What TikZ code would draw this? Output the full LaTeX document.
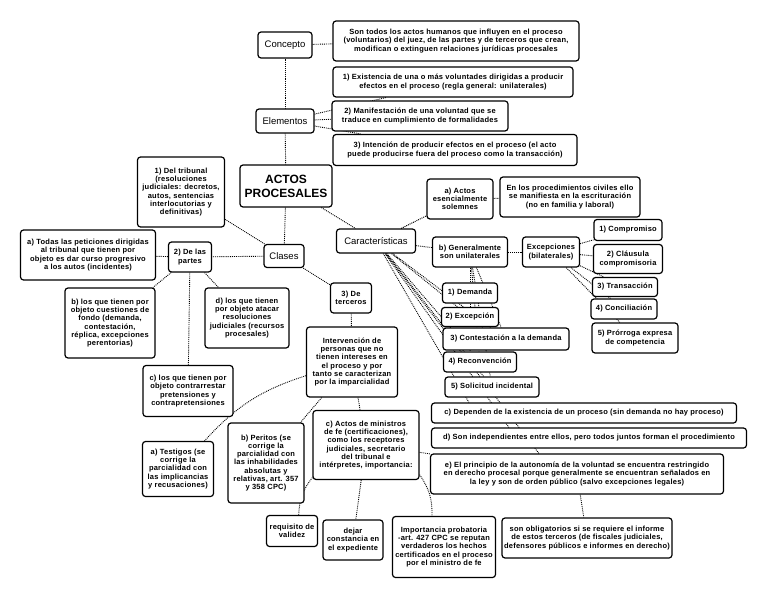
\documentclass[tikz,border=0pt]{standalone}
\usepackage{fontspec}
\setmainfont{Liberation Sans}
\newfontfamily\mapfont{Liberation Sans}[LetterSpace=3]
\usetikzlibrary{backgrounds}

\begin{document}
\begin{tikzpicture}[x=1pt, y=-1pt,
        box/.style={draw, line width=1.2pt, rounded corners=3pt, fill=white, align=center, inner sep=1.5pt, font=\mapfont\bfseries\fontsize{7.5}{8.3}\selectfont},
        head/.style={box, font=\fontsize{9.5}{10}\selectfont},
        link/.style={densely dotted, line width=0.9pt}]
    \useasboundingbox (0,0) rectangle (768,599);

    % concepto y elementos
    \node[head, minimum width=54, minimum height=26] (concepto) at (285,45) {Concepto};
    \node[box, minimum width=246, minimum height=40] (deftext) at (456,41) {Son todos los actos humanos que influyen en el proceso\\(voluntarios) del juez, de las partes y de terceros que crean,\\modifican o extinguen relaciones jurídicas procesales};
    \node[head, minimum width=58, minimum height=24] (elementos) at (285,121) {Elementos};
    \node[box, minimum width=240, minimum height=30] (elem1) at (453,82) {1) Existencia de una o más voluntades dirigidas a producir\\efectos en el proceso (regla general: unilaterales)};
    \node[box, minimum width=176, minimum height=30] (elem2) at (420,116) {2) Manifestación de una voluntad que se\\traduce en cumplimiento de formalidades};
    \node[box, minimum width=244, minimum height=31] (elem3) at (455,150) {3) Intención de producir efectos en el proceso (el acto\\puede producirse fuera del proceso como la transacción)};
    \node[box, font=\bfseries\fontsize{12}{14}\selectfont, minimum width=92, minimum height=42] (actos) at (286,186) {ACTOS\\PROCESALES};

    % clases
    \node[head, minimum width=40, minimum height=23] (clases) at (284,256) {Clases};
    \node[box, minimum width=87, minimum height=70] (tribunal) at (181,192) {1) Del tribunal\\(resoluciones\\judiciales: decretos,\\autos, sentencias\\interlocutorias y\\definitivas)};
    \node[box, minimum width=43, minimum height=30] (partes) at (190,257) {2) De las\\partes};
    \node[box, minimum width=135, minimum height=50] (partesA) at (88,255) {a) Todas las peticiones dirigidas\\al tribunal que tienen por\\objeto es dar curso progresivo\\a los autos (incidentes)};
    \node[box, minimum width=90, minimum height=70] (partesB) at (110,323) {b) los que tienen por\\objeto cuestiones de\\fondo (demanda,\\contestación,\\réplica, excepciones\\perentorias)};
    \node[box, minimum width=90, minimum height=51] (partesC) at (188,391) {c) los que tienen por\\objeto contrarrestar\\pretensiones y\\contrapretensiones};
    \node[box, minimum width=84, minimum height=60] (partesD) at (247,318) {d) los que tienen\\por objeto atacar\\resoluciones\\judiciales (recursos\\procesales)};
    \node[box, minimum width=41, minimum height=30] (terceros) at (351,298) {3) De\\terceros};
    \node[box, minimum width=91, minimum height=70] (interv) at (352,362) {Intervención de\\personas que no\\tienen intereses en\\el proceso y por\\tanto se caracterizan\\por la imparcialidad};
    \node[box, minimum width=71, minimum height=55] (testigos) at (178,469) {a) Testigos (se\\corrige la\\parcialidad con\\las implicancias\\y recusaciones)};
    \node[box, minimum width=76, minimum height=80] (peritos) at (266,463) {b) Peritos (se\\corrige la\\parcialidad con\\las inhabilidades\\absolutas y\\relativas, art. 357\\y 358 CPC)};
    \node[box, minimum width=106, minimum height=69] (ministros) at (366,445) {c) Actos de ministros\\de fe (certificaciones),\\como los receptores\\judiciales, secretario\\del tribunal e\\intérpretes, importancia:};
    \node[box, minimum width=51, minimum height=31] (validez) at (292,531) {requisito de\\validez};
    \node[box, minimum width=60, minimum height=40] (constancia) at (353,540) {dejar\\constancia en\\el expediente};
    \node[box, minimum width=103, minimum height=61] (probatoria) at (444,547) {Importancia probatoria\\-art. 427 CPC se reputan\\verdaderos los hechos\\certificados en el proceso\\por el ministro de fe};
    \node[box, minimum width=170, minimum height=40] (obligatorios) at (587,538) {son obligatorios si se requiere el informe\\de estos terceros (de fiscales judiciales,\\defensores públicos e informes en derecho)};

    % caracteristicas
    \node[head, minimum width=79, minimum height=24] (caract) at (376,241) {Características};
    \node[box, minimum width=66, minimum height=40] (caractA) at (460,199) {a) Actos\\esencialmente\\solemnes};
    \node[box, minimum width=140, minimum height=40] (escritura) at (570,197) {En los procedimientos civiles ello\\se manifiesta en la escrituración\\(no en familia y laboral)};
    \node[box, minimum width=75, minimum height=30] (caractB) at (470,252) {b) Generalmente\\son unilaterales};
    \node[box, minimum width=57, minimum height=30] (excepciones) at (551,252) {Excepciones\\(bilaterales)};
    \node[box, minimum width=68, minimum height=21] (bil1) at (628,230) {1) Compromiso};
    \node[box, minimum width=69, minimum height=29] (bil2) at (628,259) {2) Cláusula\\compromisoria};
    \node[box, minimum width=65, minimum height=19] (bil3) at (625,287) {3) Transacción};
    \node[box, minimum width=66, minimum height=20] (bil4) at (624,309) {4) Conciliación};
    \node[box, minimum width=86, minimum height=30] (bil5) at (635,338) {5) Prórroga expresa\\de competencia};
    \node[box, minimum width=55, minimum height=20] (uni1) at (470,293) {1) Demanda};
    \node[box, minimum width=57, minimum height=19] (uni2) at (470,317) {2) Excepción};
    \node[box, minimum width=126, minimum height=22] (uni3) at (506,339) {3) Contestación a la demanda};
    \node[box, minimum width=73, minimum height=20] (uni4) at (480,362) {4) Reconvención};
    \node[box, minimum width=94, minimum height=20] (uni5) at (492,387) {5) Solicitud incidental};
    \node[box, minimum width=305, minimum height=20] (caractC) at (584,413) {c) Dependen de la existencia de un proceso (sin demanda no hay proceso)};
    \node[box, minimum width=315, minimum height=20] (caractD) at (589,438) {d) Son independientes entre ellos, pero todos juntos forman el procedimiento};
    \node[box, minimum width=293, minimum height=40] (caractE) at (577,474) {e) El principio de la autonomía de la voluntad se encuentra restringido\\en derecho procesal porque generalmente se encuentran señalados en\\la ley y son de orden público (salvo excepciones legales)};

    \begin{scope}[on background layer]
        \draw[link] (concepto) -- (deftext);
        \draw[link] (concepto) -- (elementos);
        \draw[link] (elementos) -- (elem1);
        \draw[link] (elementos) -- (elem2);
        \draw[link] (elementos) -- (elem3);
        \draw[link] (elementos) -- (actos);
        \draw[link] (actos) -- (clases);
        \draw[link] (actos) -- (caract);

        \draw[link] (clases) -- (tribunal);
        \draw[link] (clases) -- (partes);
        \draw[link] (clases) -- (terceros);
        \draw[link] (partes) -- (partesA);
        \draw[link] (partes) -- (partesB);
        \draw[link] (partes) -- (partesC);
        \draw[link] (partes) -- (partesD);
        \draw[link] (terceros) -- (interv);
        \draw[link] (interv) to[bend right=15] (testigos);
        \draw[link] (interv) -- (peritos);
        \draw[link] (interv) -- (ministros);
        \draw[link] (ministros) to[bend right=18] (validez);
        \draw[link] (ministros) -- (constancia);
        \draw[link] (ministros) to[bend left=18] ([xshift=-12]probatoria.north);
        \draw[link] (ministros) -- (caractE);
        \draw[link] (caractE) -- (obligatorios);

        \draw[link] (caract) -- (caractA);
        \draw[link] (caractA) -- (escritura);
        \draw[link] (caract) -- (caractB);
        \draw[link] (caractB) -- (excepciones);
        \foreach \n in {1,...,5} {
            \draw[link] (caractB) -- (uni\n);
            \draw[link] (excepciones) -- (bil\n);
        }
        \foreach \n in {uni2,uni3,uni4,uni5}
            \draw[link] (caract) -- (\n);
        \draw[link] (caract) -- ([xshift=38]caractC.north west);
        \draw[link] (caract) -- ([xshift=78]caractD.north west);
        \draw[link] (caract) -- ([xshift=109]caractE.north west);
    \end{scope}
\end{tikzpicture}
\end{document}
